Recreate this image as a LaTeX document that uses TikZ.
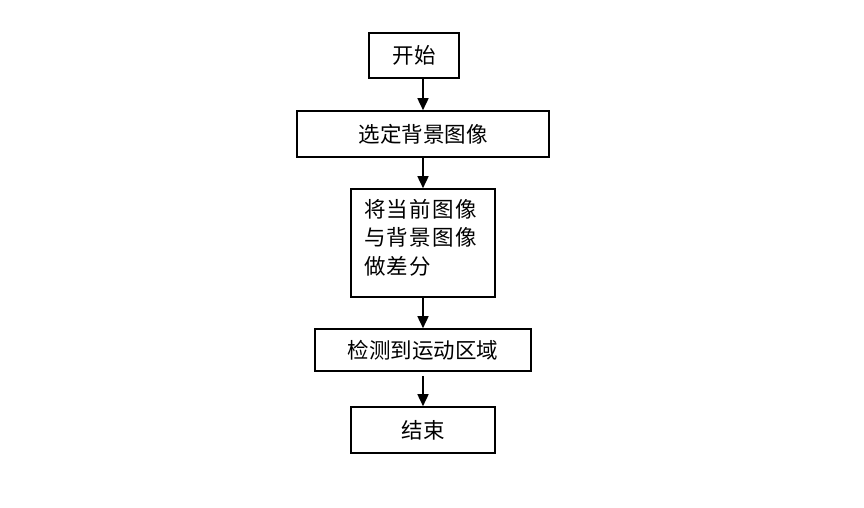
\documentclass[tikz,border=0pt]{standalone}
\usepackage{fontspec}
\setmainfont{Noto Sans CJK SC}
\usepackage{tikz}
\usetikzlibrary{arrows.meta, positioning}

\begin{document}
\begin{tikzpicture}[
        x=1pt, y=-1pt,
        box/.style={draw, rectangle, line width=1.6pt, inner sep=0pt, font=\fontsize{21.5}{28}\selectfont},
        flow/.style={-{Triangle[length=12pt,width=11pt]}, line width=1.6pt},
      ]

      \useasboundingbox (0,0) rectangle (864,508);

      % Flow steps
      \node [box, minimum width=90, minimum height=45] (start) at (414,55.5) {开始};
      \node [box, minimum width=252, minimum height=46] (select) at (423,134) {选定背景图像};
      \node [box, minimum width=144, minimum height=108] (diff) at (423,243)
        {\parbox[c][88pt][t]{118pt}{\fontsize{21.5}{28.5}\selectfont\addfontfeature{LetterSpace=6}将当前图像\\与背景图像\\做差分}};
      \node [box, minimum width=216, minimum height=42] (detect) at (423,350) {检测到运动区域};
      \node [box, minimum width=144, minimum height=46] (stop) at (423,430) {结束};

      % Connectors
      \draw [flow] (start.south -| select) -- (select.north);
      \draw [flow] (select) -- (diff);
      \draw [flow] (diff) -- (detect);
      \draw [flow, shorten <=4pt] (detect) -- (stop);

    \end{tikzpicture}
\end{document}
